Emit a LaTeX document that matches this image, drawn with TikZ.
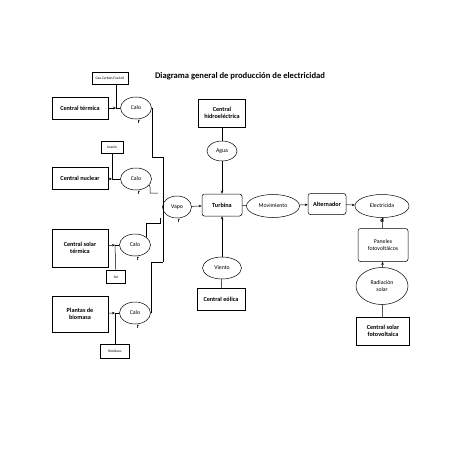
\documentclass[tikz,border=0pt]{standalone}
\usepackage{fontspec}
\setmainfont{Carlito}
\usetikzlibrary{shapes.geometric,arrows.meta}

\begin{document}
\begin{tikzpicture}[x=1pt, y=-1pt, line width=0.5pt,
    caja/.style={draw, rectangle, inner sep=1pt, align=center, font=\fontsize{6.2}{7.6}\selectfont\bfseries},
    cajar/.style={caja, rounded corners=2.5pt},
    etiqueta/.style={draw, rectangle, inner sep=1pt, font=\fontsize{3.6}{4}\selectfont},
    elipse/.style={draw, ellipse, inner sep=0pt, align=center, font=\fontsize{5.8}{7.4}\selectfont},
    letra/.style={inner sep=0pt, anchor=north, font=\fontsize{6.5}{7}\selectfont\bfseries},
    flecha/.style={-{Stealth[length=3pt, width=2.5pt]}}]
    % Page
    \fill[white] (0,0) rectangle (452,452);
    \useasboundingbox (0,0) rectangle (452,452);

    % Title
    \node[font=\fontsize{8.6}{9}\selectfont\bfseries] (titulo) at (240,76) {Diagrama general de producción de electricidad};

    % Sources (left column)
    \node[etiqueta, minimum width=36, minimum height=12] (gas) at (110,78) {Gas,Carbón,Fuel-oil};
    \node[caja, minimum width=56, minimum height=22] (termica) at (80,108) {Central térmica};
    \node[elipse, minimum width=31, minimum height=22] (calo1) at (136,108) {Calo};
    \node[etiqueta, minimum width=22, minimum height=12] (uranio) at (112,147) {Uranio};
    \node[caja, minimum width=56, minimum height=22] (nuclear) at (80,178) {Central nuclear};
    \node[elipse, minimum width=31, minimum height=22] (calo2) at (136,179) {Calo};
    \node[caja, minimum width=56, minimum height=38] (solart) at (80,248) {Central solar\\térmica};
    \node[elipse, minimum width=31, minimum height=22] (calo3) at (135,245) {Calo};
    \node[etiqueta, minimum width=19, minimum height=13] (sol) at (116,277) {Sol};
    \node[caja, minimum width=56, minimum height=36] (biomasa) at (80,314) {Plantas de\\biomasa};
    \node[elipse, minimum width=31, minimum height=22] (calo4) at (135,313) {Calo};
    \node[etiqueta, minimum width=29, minimum height=14] (residuos) at (115,351) {Residuos};

    % Wrapped letters
    \node[letra] (calo1r) at (139,120.5) {r};
    \node[letra] (calo2r) at (139,191.5) {r};
    \node[letra] (calo3r) at (138,257.5) {r};
    \node[letra] (calo4r) at (138,325.5) {r};

    % Junctions
    \coordinate (j1) at (116,108);
    \coordinate (j2) at (112,179);
    \coordinate (j3) at (115,245);
    \coordinate (j4) at (115,313);

    \draw[flecha] (termica) -- (j1);
    \draw (j1) -- (calo1);
    \draw (gas.south -| j1) -- (j1);
    \draw[flecha] (nuclear) -- (j2);
    \draw (j2) -- (calo2);
    \draw (uranio) -- (j2);
    \draw[flecha] (solart) -- (j3);
    \draw (j3) -- (calo3);
    \draw (sol) -- (j3);
    \draw[flecha] (biomasa) -- (j4);
    \draw (j4) -- (calo4);
    \draw (residuos) -- (j4);

    % Steam lines
    \coordinate (b1) at (163,157);
    \coordinate (b4) at (163,262);
    \coordinate (c2) at (150,187);
    \coordinate (d2) at (158,193);
    \coordinate (c3) at (160,223);
    \coordinate (d3) at (160,218);
    \draw (calo1.east) |- (b1) -- (b4);
    \draw (calo2.-25) -- (c2) |- (d2);
    \draw (calo3.north east) |- (c3) -- (d3);
    \draw (calo4.east) |- (b4);

    % Centre
    \node[elipse, minimum width=29, minimum height=22] (vapo) at (177,207) {Vapo};
    \node[letra] (vapor) at (179,219.5) {r};
    \node[cajar, minimum width=40, minimum height=22] (turbina) at (222,205) {Turbina};
    \node[caja, minimum width=47, minimum height=28] (hidro) at (222,113) {Central\\hidroeléctrica};
    \node[elipse, minimum width=30, minimum height=20] (agua) at (222,151) {Agua};
    \node[elipse, minimum width=39, minimum height=22] (viento) at (222,268) {Viento};
    \node[caja, minimum width=48, minimum height=22] (eolica) at (221,299) {Central eólica};
    \node[elipse, minimum width=53, minimum height=23] (movim) at (273,206) {Movimiento};
    \node[cajar, minimum width=38, minimum height=21] (alternador) at (327,204) {Alternador};

    \draw[flecha] (vapo) -- (turbina);
    \draw (hidro) -- (agua);
    \draw[flecha] (agua) -- (turbina);
    \draw (eolica) -- (viento);
    \draw[flecha] (viento) -- (turbina);
    \draw (turbina) -- (movim);
    \draw[flecha] (movim) -- (alternador);

    % Right column
    \node[elipse, minimum width=54, minimum height=23] (elec) at (382,206) {Electricida};
    \node[cajar, font=\fontsize{5.8}{7.4}\selectfont, minimum width=50, minimum height=33] (paneles) at (383,245) {Paneles\\fotovoltáicos};
    \node[elipse, minimum width=52, minimum height=37] (radiac) at (382,286) {Radiación\\solar};
    \node[caja, minimum width=53, minimum height=28] (fotov) at (383,331) {Central solar\\fotovoltaica};

    \draw[flecha] (alternador) -- (elec);
    \draw[flecha] (paneles) -- (elec);
    \draw[flecha] (radiac) -- (paneles);
    \draw (fotov) -- (radiac);

    % Wrapped letter over the arrow tip
    \node[letra] (elecd) at (382,217.5) {d};
\end{tikzpicture}
\end{document}
